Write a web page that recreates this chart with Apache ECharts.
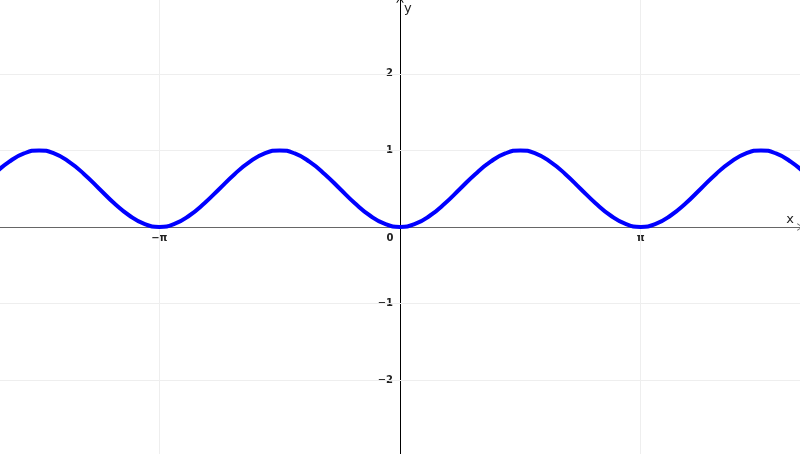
<!DOCTYPE html>
<html>
<head>
<meta charset="utf-8">
<script src="https://cdn.jsdelivr.net/npm/echarts@6/dist/echarts.min.js"></script>
<style>
html,body{margin:0;padding:0;background:#fff;}
#chart{width:800px;height:454px;}
</style>
</head>
<body>
<div id="chart"></div>
<script>
// Curve samples (y = sin²x shape)
var xValues = [-5.498,-5.301,-5.105,-4.909,-4.712,-4.516,-4.320,-4.123,-3.927,-3.731,-3.534,-3.338,-3.142,-2.945,-2.749,-2.553,-2.356,-2.160,-1.963,-1.767,-1.571,-1.374,-1.178,-0.982,-0.785,-0.589,-0.393,-0.196,
  0,
  0.196,0.393,0.589,0.785,0.982,1.178,1.374,1.571,1.767,1.963,2.160,2.356,2.553,2.749,2.945,3.142,3.338,3.534,3.731,3.927,4.123,4.320,4.516,4.712,4.909,5.105,5.301,5.498];
var yValues = [0.5,0.69,0.85,0.96,1,0.96,0.85,0.69,0.5,0.31,0.15,0.04,0,0.04,0.15,0.31,0.5,0.69,0.85,0.96,1,0.96,0.85,0.69,0.5,0.31,0.15,0.04,
  0,
  0.04,0.15,0.31,0.5,0.69,0.85,0.96,1,0.96,0.85,0.69,0.5,0.31,0.15,0.04,0,0.04,0.15,0.31,0.5,0.69,0.85,0.96,1,0.96,0.85,0.69,0.5];
var xTickValues = [-Math.PI, 0, Math.PI];
var xTickLabels = ['−π', '0', 'π'];
var yTickValues = [-2, -1, 1, 2];
var yTickLabels = ['−2', '−1', '1', '2'];
var xGridValues = [-Math.PI, Math.PI];
var yGridValues = [-2, -1, 1, 2];
var xRange = [-5.222, 5.222];
var yRange = [-2.963, 2.963];

var points = xValues.map(function (x, i) { return [x, yValues[i]]; });
var gridData = xGridValues.map(function (v) { return { xAxis: v }; })
  .concat(yGridValues.map(function (v) { return { yAxis: v }; }));

var chevronUp = 'path://M0,6 L4,0 L8,6 L7.2,6.6 L4,1.8 L0.8,6.6 Z';
var W = 800, H = 454;

var chart = echarts.init(document.getElementById('chart'));
chart.setOption({
  animation: false,
  backgroundColor: '#ffffff',
  grid: { left: 0, right: 0, top: 0, bottom: 0, containLabel: false, outerBoundsMode: 'none' },
  xAxis: {
    type: 'value',
    position: 'bottom',
    offset: -H / 2,
    min: xRange[0], max: xRange[1],
    name: 'x',
    nameLocation: 'end',
    nameGap: -6,
    nameTextStyle: { align: 'right', verticalAlign: 'bottom', color: '#222', fontSize: 13, fontFamily: 'DejaVu Sans', padding: [0, 0, 1, 0] },
    axisLine: { onZero: false, lineStyle: { color: '#666', width: 1 }, symbol: ['none', chevronUp], symbolSize: [8, 6] },
    axisTick: { show: false },
    splitLine: { show: false },
    axisLabel: {
      customValues: xTickValues,
      margin: 6,
      formatter: function (v) {
        for (var i = 0; i < xTickValues.length; i++) {
          if (Math.abs(v - xTickValues[i]) < 1e-6) {
            return v === 0 ? '{z|' + xTickLabels[i] + '}' : xTickLabels[i];
          }
        }
        return '';
      },
      color: '#222', fontSize: 10, fontWeight: 'bold', fontFamily: 'DejaVu Sans',
      rich: { z: { padding: [0, 20, 0, 0], color: '#222', fontSize: 10, fontWeight: 'bold', fontFamily: 'DejaVu Sans' } }
    }
  },
  yAxis: {
    type: 'value',
    position: 'left',
    offset: -W / 2,
    min: yRange[0], max: yRange[1],
    name: 'y',
    nameLocation: 'end',
    nameGap: -2,
    nameTextStyle: { align: 'left', verticalAlign: 'top', color: '#222', fontSize: 13, fontFamily: 'DejaVu Sans', padding: [0, 0, 0, 4] },
    axisLine: { onZero: false, lineStyle: { color: '#000', width: 1 }, symbol: ['none', chevronUp], symbolSize: [8, 6] },
    axisTick: { show: false },
    splitLine: { show: false },
    axisLabel: {
      customValues: yTickValues,
      margin: 7,
      padding: [4, 0, 0, 0],
      formatter: function (v) {
        for (var i = 0; i < yTickValues.length; i++) {
          if (Math.abs(v - yTickValues[i]) < 1e-6) return yTickLabels[i];
        }
        return '';
      },
      color: '#222', fontSize: 10, fontWeight: 'bold', fontFamily: 'DejaVu Sans'
    }
  },
  series: [{
    type: 'line',
    data: points,
    smooth: true,
    showSymbol: false,
    symbol: 'none',
    lineStyle: { color: '#0000ff', width: 4 },
    z: 3,
    markLine: {
      silent: true,
      symbol: ['none', 'none'],
      label: { show: false },
      lineStyle: { color: '#eeeeee', width: 1, type: 'solid' },
      emphasis: { disabled: true },
      data: gridData,
      z: 1
    }
  }]
});
</script>
</body>
</html>
